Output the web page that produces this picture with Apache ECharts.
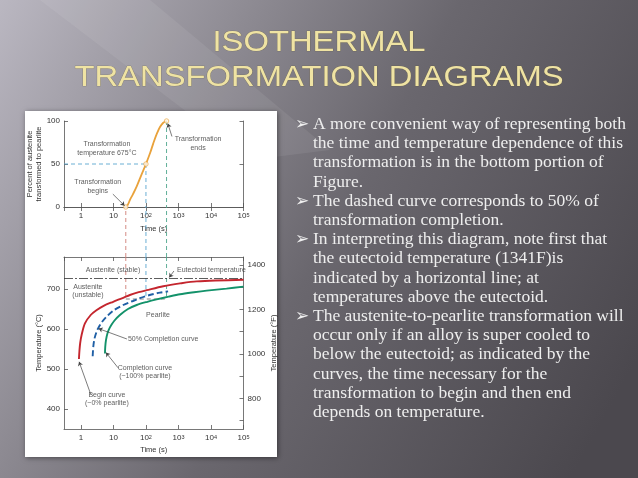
<!DOCTYPE html>
<html><head><meta charset="utf-8">
<script src="https://cdn.jsdelivr.net/npm/echarts@6/dist/echarts.min.js"></script>
<style>html,body{margin:0;padding:0;background:#6a676e;}#c{width:638px;height:478px;}</style>
</head><body><div id="c"></div>
<script>
// ---------- data ----------
const titleLines = ['ISOTHERMAL', 'TRANSFORMATION DIAGRAMS'];
const bulletLines = [
  'A more convenient way of representing both',
  'the time and temperature dependence of this',
  'transformation is in the bottom portion of',
  'Figure.',
  'The dashed curve corresponds to 50% of',
  'transformation completion.',
  'In interpreting this diagram, note first that',
  'the eutectoid temperature (1341F)is',
  'indicated by a horizontal line; at',
  'temperatures above the eutectoid.',
  'The austenite-to-pearlite transformation will',
  'occur only if an alloy is super cooled to',
  'below the eutectoid; as indicated by the',
  'curves, the time necessary for the',
  'transformation to begin and then end',
  'depends on temperature.'
];
const bulletStartLines = [0, 4, 6, 10];

const timeTickLabels = {1: '1', 10: '10', 100: '10{s|2}', 1000: '10{s|3}', 10000: '10{s|4}', 100000: '10{s|5}'};
const timeMin = 0.302, timeMax = 100000;
const pctTicks = [0, 50, 100];
const tempCMin = 350, tempCMax = 780;
const tempCTicks = [400, 500, 600, 700];
const tempFTicks = [700, 800, 900, 1000, 1100, 1200, 1300, 1400];
const tempFLabels = [800, 1000, 1200, 1400];

// top: percent transformed at 675 C
const transformTempC = 675;
const sCurveTime = [24, 28, 32, 40, 52, 70, 100, 135, 168, 215, 270, 340, 430];
const sCurvePct  = [0, 3, 8, 15, 24, 36, 50, 63, 74, 85, 93, 98, 100];
const markerTime = [24, 100, 430];
const markerPct  = [0, 50, 100];

// bottom: isothermal transformation curves
const eutectoidC = 727;
const beginTime = [0.87, 0.9, 0.95, 1.05, 1.33, 2, 3, 5, 9.8, 20, 32, 60, 105, 340, 1120, 3630, 100000];
const beginTemp = [525, 545, 565, 585, 614, 635, 647, 658, 668, 678, 685, 692, 697, 707, 714, 719, 723];
const halfTime  = [2.3, 2.4, 2.6, 3.0, 3.4, 4.5, 6.2, 10, 20, 40, 65, 130, 270, 480];
const halfTemp  = [532, 555, 575, 592, 602, 618, 631, 646, 660, 670, 677, 685, 691, 694];
const endTime   = [5.5, 5.6, 5.9, 6.6, 7.8, 10.5, 15.8, 28, 52, 110, 213, 500, 1120, 3000, 7400, 30000, 100000];
const endTemp   = [539, 555, 572, 590, 604, 620, 635, 650, 660, 668, 674, 681, 687, 692, 696, 701, 706];

// ---------- build ----------
const FONT = '"Liberation Sans", Arial, sans-serif';
const AX = '#555';
const zip = (a, b) => a.map((v, i) => [v, b[i]]);
const timeFmt = v => { const k = Math.round(v); return timeTickLabels[k] !== undefined && Math.abs(v - k) < 1e-6 * Math.max(1, k) ? timeTickLabels[k] : ''; };
const cToF = c => c * 9 / 5 + 32;
const supRich = {s: {fontSize: 5.5, verticalAlign: 'top', color: '#333', fontFamily: FONT}};

function xAx(gi, opts) {
  return Object.assign({
    type: 'log', logBase: 10, gridIndex: gi, min: timeMin, max: timeMax,
    axisLine: {show: true, lineStyle: {color: AX, width: 0.8}},
    axisTick: {show: true, inside: true, length: 4, lineStyle: {color: AX, width: 0.8}},
    axisLabel: {show: true, formatter: timeFmt, color: '#333', fontSize: 8, fontFamily: FONT, margin: 5,
      showMinLabel: false, rich: supRich},
    splitLine: {show: false}, minorTick: {show: false}
  }, opts || {});
}
const txt = {color: '#333', fontSize: 7, fontFamily: FONT, lineHeight: 8.5};

function labels(xi, yi, items) {
  return {
    type: 'scatter', xAxisIndex: xi, yAxisIndex: yi, symbolSize: 0, silent: true, z: 5,
    label: Object.assign({show: true, position: 'inside', formatter: '{b}'}, txt),
    data: items.map(it => ({name: it[0], value: [it[1], it[2]], label: it[3] ? {align: it[3]} : undefined}))
  };
}
function leaders(xi, yi, segs) {
  return {
    type: 'line', xAxisIndex: xi, yAxisIndex: yi, data: [], silent: true,
    markLine: {symbol: ['none', 'arrow'], symbolSize: 4, silent: true, animation: false,
      label: {show: false}, lineStyle: {color: '#444', width: 0.7, type: 'solid'},
      data: segs.map(s => [{coord: s[0]}, {coord: s[1]}])}
  };
}
const dashCol = ['#cf7f77', '#5aa6cf', '#4fa68c'];
function vline(xi, yi, pts, col) {
  return {type: 'line', xAxisIndex: xi, yAxisIndex: yi, data: pts, symbol: 'none', silent: true,
    lineStyle: {color: col, width: 0.9, type: [4, 3]}, z: 1};
}

const series = [];
// top grid
series.push({type: 'line', xAxisIndex: 0, yAxisIndex: 0, data: zip(sCurveTime, sCurvePct), smooth: 0.35,
  symbol: 'none', lineStyle: {color: '#e9a23b', width: 1.8}, z: 3});
markerTime.forEach((t, i) => series.push(vline(0, 0, [[t, markerPct[i]], [t, 0]], dashCol[i])));
series.push(vline(0, 0, [[timeMin, markerPct[1]], [markerTime[1], markerPct[1]]], dashCol[1]));
series.push({type: 'scatter', xAxisIndex: 0, yAxisIndex: 0, data: zip(markerTime, markerPct), symbol: 'circle',
  symbolSize: 4.5, itemStyle: {color: '#fff8ec', borderColor: '#e9a23b', borderWidth: 0.8}, z: 4, silent: true});
series.push(labels(0, 0, [
  ['Transformation\ntemperature ' + transformTempC + '°C', 6.3, 68],
  ['Transformation\nbegins', 3.3, 24],
  ['Transformation\nends', 4000, 74]
]));
series.push(leaders(0, 0, [[[9.6, 15], [22, 1.5]], [[630, 82], [470, 97]]]));
// gap grid
markerTime.forEach((t, i) => series.push(vline(2, 2, [[t, 0], [t, 1]], dashCol[i])));
// bottom grid
series.push({type: 'line', xAxisIndex: 3, yAxisIndex: 3, data: zip(beginTime, beginTemp), smooth: 0.3,
  symbol: 'none', lineStyle: {color: '#c4262e', width: 1.9}, z: 3,
  markLine: {symbol: 'none', silent: true, label: {show: false}, animation: false,
    lineStyle: {color: '#333', width: 0.8, type: [9, 2, 2, 2]}, data: [{yAxis: eutectoidC}]}});
series.push({type: 'line', xAxisIndex: 3, yAxisIndex: 3, data: zip(halfTime, halfTemp), smooth: 0.3,
  symbol: 'none', lineStyle: {color: '#1f5fa5', width: 1.9, type: [6, 3]}, z: 3});
series.push({type: 'line', xAxisIndex: 3, yAxisIndex: 3, data: zip(endTime, endTemp), smooth: 0.3,
  symbol: 'none', lineStyle: {color: '#13926a', width: 1.9}, z: 3});
markerTime.forEach((t, i) => series.push(vline(3, 3, [[t, tempCMax], [t, transformTempC]], dashCol[i])));
series.push(vline(3, 3, [[markerTime[0], transformTempC], [markerTime[2], transformTempC]], '#777'));
series.push(labels(3, 3, [
  ['Austenite (stable)', 9.7, 747],
  ['Eutectoid temperature', 900, 747, 'left'],
  ['Austenite\n(unstable)', 1.64, 695],
  ['Pearlite', 234, 635],
  ['50% Completion curve', 28, 575, 'left'],
  ['Completion curve\n(~100% pearlite)', 93, 492],
  ['Begin curve\n(~0% pearlite)', 6.3, 425]
]));
series.push(leaders(3, 3, [
  [[725, 745], [520, 729]],
  [[26, 575], [3.5, 601]],
  [[13.9, 503], [5.9, 541]],
  [[2.0, 437], [0.88, 518]]
]));

const yLbl = {color: '#333', fontSize: 8, fontFamily: FONT, margin: 4, formatter: v => String(v)};
const yTick = {show: true, inside: true, length: 4, lineStyle: {color: AX, width: 0.8}};
const yLine = {show: true, lineStyle: {color: AX, width: 0.8}};
const nameTs = {color: '#333', fontSize: 7.5, fontFamily: FONT, lineHeight: 8.5};

const option = {
  animation: false,
  grid: [
    {left: 64, top: 121, width: 179.5, height: 86},
    {left: 64, top: 207, width: 179.5, height: 50},
    {left: 64, top: 257, width: 179.5, height: 172}
  ],
  xAxis: [
    xAx(0, {name: 'Time (s)', nameLocation: 'middle', nameGap: 18, nameTextStyle: nameTs}),
    xAx(0, {position: 'top', axisLabel: {show: false}}),
    xAx(1, {show: false}),
    xAx(2, {name: 'Time (s)', nameLocation: 'middle', nameGap: 17, nameTextStyle: nameTs}),
    xAx(2, {position: 'top', axisLabel: {show: false}})
  ],
  yAxis: [
    {type: 'value', gridIndex: 0, min: 0, max: 100, interval: 50, axisLine: yLine, axisTick: yTick,
     axisLabel: yLbl, splitLine: {show: false},
     name: 'Percent of austenite\ntransformed to pearlite', nameLocation: 'middle', nameGap: 15, nameTextStyle: nameTs},
    {type: 'value', gridIndex: 0, min: 0, max: 100, interval: 50, position: 'right', axisLine: yLine,
     axisTick: yTick, axisLabel: {show: false}, splitLine: {show: false}},
    {type: 'value', gridIndex: 1, min: 0, max: 1, show: false},
    {type: 'value', gridIndex: 2, min: tempCMin, max: tempCMax, axisLine: yLine,
     axisTick: Object.assign({customValues: tempCTicks}, yTick),
     axisLabel: Object.assign({customValues: tempCTicks}, yLbl), splitLine: {show: false},
     name: 'Temperature (°C)', nameLocation: 'middle', nameGap: 18, nameTextStyle: nameTs},
    {type: 'value', gridIndex: 2, min: cToF(tempCMin), max: cToF(tempCMax), position: 'right', axisLine: yLine,
     axisTick: Object.assign({customValues: tempFTicks}, yTick),
     axisLabel: Object.assign({customValues: tempFLabels}, yLbl), splitLine: {show: false},
     name: 'Temperature (°F)', nameLocation: 'middle', nameGap: 22, nameTextStyle: nameTs}
  ],
  series: series,
  graphic: []
};

// slide decoration
const g = option.graphic;
g.push({type: 'rect', z: -30, silent: true, shape: {x: 0, y: 0, width: 638, height: 478},
  style: {fill: new echarts.graphic.LinearGradient(0, 0, 1, 0.75, [
    {offset: 0, color: '#bab7c1'}, {offset: 0.3, color: '#8e8b93'}, {offset: 0.55, color: '#6a676e'}, {offset: 1, color: '#4b484e'}])}});
g.push({type: 'polygon', z: -29, silent: true, shape: {points: [[40, 0], [150, 0], [330, 150], [250, 160]]},
  style: {fill: 'rgba(255,255,255,0.07)'}});
g.push({type: 'rect', z: -20, silent: true, shape: {x: 25, y: 111, width: 252, height: 346},
  style: {fill: '#ffffff', shadowBlur: 5, shadowColor: 'rgba(0,0,0,0.45)', shadowOffsetX: 1, shadowOffsetY: 1}});
titleLines.forEach((t, i) => g.push({type: 'text', z: 10, silent: true, x: 319, y: 43 + i * 34.5, scaleX: 1.13,
  style: {text: t, font: '29px "Liberation Sans", Arial, sans-serif', fill: '#efe3a3', align: 'center',
    verticalAlign: 'middle', stroke: 'rgba(90,80,40,0.5)', lineWidth: 0.6,
    shadowBlur: 4, shadowColor: 'rgba(0,0,0,0.6)', shadowOffsetX: 1.5, shadowOffsetY: 2}}));
g.push({type: 'text', z: 10, silent: true, x: 313, y: 114.9,
  style: {text: bulletLines.join('\n'), font: '17.5px "Liberation Serif", "Times New Roman", serif', fill: '#eeeeee',
    lineHeight: 19.2, align: 'left', verticalAlign: 'top',
    shadowBlur: 2, shadowColor: 'rgba(0,0,0,0.5)', shadowOffsetX: 1, shadowOffsetY: 1}});
bulletStartLines.forEach(li => g.push({type: 'text', z: 10, silent: true, x: 302, y: 124.5 + li * 19.2,
  style: {text: '➢', font: '17px "DejaVu Sans", sans-serif', fill: '#f0f0f0', align: 'center', verticalAlign: 'middle'}}));

const chart = echarts.init(document.getElementById('c'), null, {renderer: 'canvas'});
chart.setOption(option);
</script></body></html>
